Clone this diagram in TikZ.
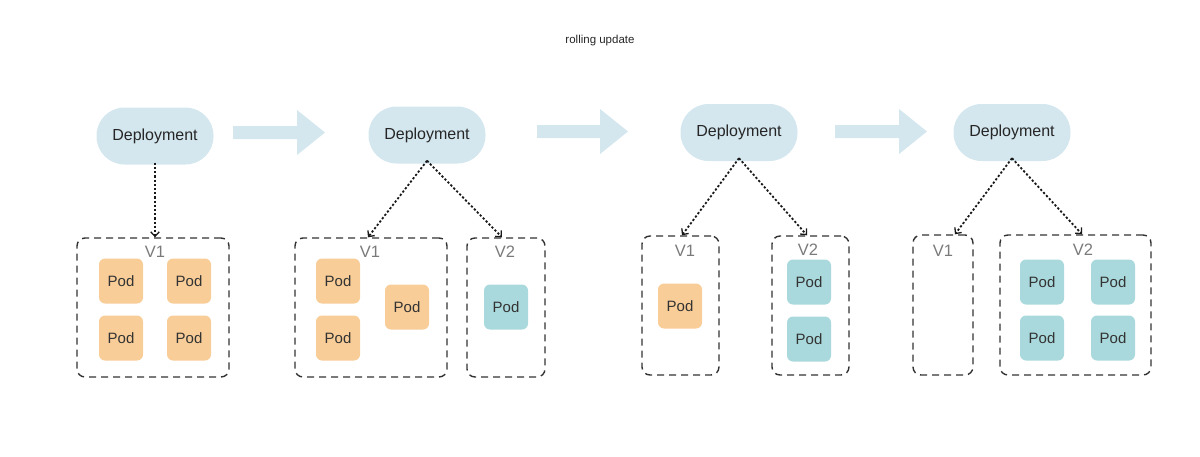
\documentclass[tikz,border=0pt]{standalone}
\usepackage{fontspec}
\setmainfont{Liberation Sans}
\usetikzlibrary{arrows.meta,positioning}
\definecolor{depblue}{HTML}{D4E7EF}
\definecolor{podorange}{HTML}{F8CD98}
\definecolor{podteal}{HTML}{A9D9DC}
\definecolor{boxline}{HTML}{333333}
\definecolor{vergray}{HTML}{7A7A7A}
\tikzset{
  deploy/.style={fill=depblue, rounded corners=28pt, minimum width=117pt, minimum height=57pt, inner sep=0pt, font=\fontsize{16}{18}\selectfont, text=black!85},
  podo/.style={fill=podorange, rounded corners=6pt, minimum width=44pt, minimum height=45pt, inner sep=0pt, font=\fontsize{15}{17}\selectfont, text=black!80},
  podt/.style={podo, fill=podteal},
  grp/.style={draw=boxline, line width=1.4pt, dash pattern=on 7pt off 5pt, rounded corners=8pt, inner sep=0pt},
  ver/.style={text=vergray, font=\fontsize{16.5}{18}\selectfont, inner sep=0pt},
  link/.style={draw=black!90, line width=1.8pt, dash pattern=on 2.2pt off 2pt, -{Straight Barb[length=4.5pt,width=8.5pt,line width=1.3pt]}},
  bigarrow/.style={fill=depblue, draw=none}
}
\begin{document}
\begin{tikzpicture}[x=1pt,y=-1pt]
\useasboundingbox (0,0) rectangle (1200,456);
\node[font=\fontsize{11.5}{13}\selectfont, text=black!85] (title) at (600,41) {rolling update};

% big arrows
\fill[bigarrow] (233,126) -- (297,126) -- (297,110) -- (325,132.5) -- (297,155) -- (297,139) -- (233,139) -- cycle;
\fill[bigarrow] (537,125) -- (600,125) -- (600,109) -- (628,131.5) -- (600,154) -- (600,138) -- (537,138) -- cycle;
\fill[bigarrow] (835,125) -- (899,125) -- (899,109) -- (927,131.5) -- (899,154) -- (899,138) -- (835,138) -- cycle;

% stage 1
\node[deploy] (d1) at (155,136) {Deployment};
\node[grp, minimum width=152pt, minimum height=139pt] (b1a) at (153,307.5) {};
\node[ver] (v1a) at (155,252) {V1};
\node[podo] (p11) at (121,281) {Pod};
\node[podo] (p12) at (189,281) {Pod};
\node[podo] (p13) at (121,338) {Pod};
\node[podo] (p14) at (189,338) {Pod};
\draw[link] ([yshift=2pt]d1.south) -- (b1a.north -| d1.south);

% stage 2
\node[deploy] (d2) at (427,135) {Deployment};
\node[grp, minimum width=152pt, minimum height=139pt] (b2a) at (371,307.5) {};
\node[grp, minimum width=78pt, minimum height=139pt] (b2b) at (506,307.5) {};
\node[ver] (v2a) at (370,252) {V1};
\node[ver] (v2b) at (505,252) {V2};
\node[podo] (p21) at (338,281) {Pod};
\node[podo] (p22) at (338,338) {Pod};
\node[podo] (p23) at (407,307) {Pod};
\node[podt] (p24) at (506,307) {Pod};
\draw[link] ([yshift=3pt]d2.south) -- ([xshift=-3pt]b2a.north);
\draw[link] ([yshift=3pt]d2.south) -- ([xshift=-4pt]b2b.north);

% stage 3
\node[deploy] (d3) at (739,132.5) {Deployment};
\node[grp, minimum width=77pt, minimum height=139pt] (b3a) at (680.5,305.5) {};
\node[grp, minimum width=77pt, minimum height=139pt] (b3b) at (810.5,305.5) {};
\node[ver] (v3a) at (685,251) {V1};
\node[ver] (v3b) at (808,250) {V2};
\node[podo] (p31) at (680,306) {Pod};
\node[podt] (p32) at (809,282) {Pod};
\node[podt] (p33) at (809,339) {Pod};
\draw[link] ([yshift=3pt]d3.south) -- ([xshift=1.5pt]b3a.north);
\draw[link] ([yshift=3pt]d3.south) -- ([xshift=-3.5pt]b3b.north);

% stage 4
\node[deploy] (d4) at (1012,132.5) {Deployment};
\node[grp, minimum width=60pt, minimum height=140pt] (b4a) at (943,305) {};
\node[grp, minimum width=151pt, minimum height=140pt] (b4b) at (1075.5,305) {};
\node[ver] (v4a) at (943,251) {V1};
\node[ver] (v4b) at (1083,250) {V2};
\node[podt] (p41) at (1042,282) {Pod};
\node[podt] (p42) at (1113,282) {Pod};
\node[podt] (p43) at (1042,338) {Pod};
\node[podt] (p44) at (1113,338) {Pod};
\draw[link] ([yshift=3pt]d4.south) -- ([xshift=12pt]b4a.north);
\draw[link] ([yshift=3pt]d4.south) -- ([xshift=6.5pt]b4b.north);
\end{tikzpicture}
\end{document}
